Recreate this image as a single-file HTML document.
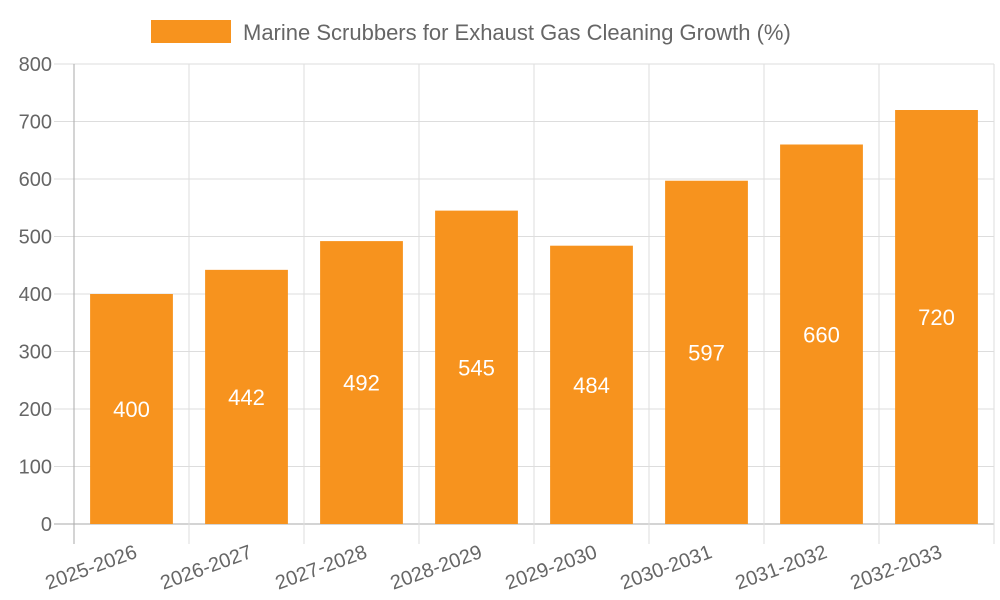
<!DOCTYPE html>
<html><head><meta charset="utf-8"><style>
body{margin:0;background:#fff;}
svg{display:block;font-family:"Liberation Sans",sans-serif;}
</style></head><body>
<svg id="chart" width="1000" height="600">
<g id="grid"></g>
<g id="bars"></g>
<g id="axes"></g>
<g>
<rect x="151" y="20" width="80" height="23" fill="#f7931e"/>
<text x="243" y="40" font-size="22" fill="#666">Marine Scrubbers for Exhaust Gas Cleaning Growth (%)</text>
</g>
</svg>
<script>
const categories=["2025-2026","2026-2027","2027-2028","2028-2029","2029-2030","2030-2031","2031-2032","2032-2033"];
const values=[400,442,492,545,484,597,660,720];
const yTicks=[0,100,200,300,400,500,600,700,800];
const NS="http://www.w3.org/2000/svg";
const L=74,R=994,T=64,B=524,YMAX=800;
const y=v=>B-(v/YMAX)*(B-T);
const band=(R-L)/categories.length;
const x=i=>L+band*i;
function mk(tag,attrs,parent,txt){const e=document.createElementNS(NS,tag);for(const k in attrs)e.setAttribute(k,attrs[k]);if(txt!==undefined)e.textContent=txt;parent.appendChild(e);return e;}
const grid=document.getElementById('grid'),bars=document.getElementById('bars'),axes=document.getElementById('axes');
yTicks.forEach(t=>{
  const gl=mk('line',{x1:L-20,x2:R,y1:y(t),y2:y(t),stroke:t===0?'#aaa':'#ddd','stroke-width':1},grid);
  
  
  const tl=mk('text',{x:L-22,y:y(t)+7,'text-anchor':'end','font-size':20,fill:'#666'},axes,t);
  
  
});
for(let i=0;i<=categories.length;i++){
  const vl=mk('line',{x1:x(i),x2:x(i),y1:T,y2:B+20,stroke:i===0?'#aaa':'#ddd','stroke-width':1},grid);
  
  
}
categories.forEach((c,i)=>{
  const bw=band*0.72,bx=x(i)+(band-bw)/2,v=values[i];
  const r=mk('rect',{x:bx,y:y(v),width:bw,height:B-y(v),fill:'#f7931e'},bars);
  
  
  const vt=mk('text',{x:x(i)+band/2,y:(y(v)+B)/2+8,'text-anchor':'middle','font-size':22,fill:'#fff'},bars,v);
  
  
  const cx=x(i)+band/2+2,cy=B+20;
  const xl=mk('text',{x:cx,y:cy,'text-anchor':'end','font-size':20,fill:'#666',transform:`rotate(-20 ${cx} ${cy})`,dy:'0.7em'},axes,c);
  
  
});
</script>
</body></html>
